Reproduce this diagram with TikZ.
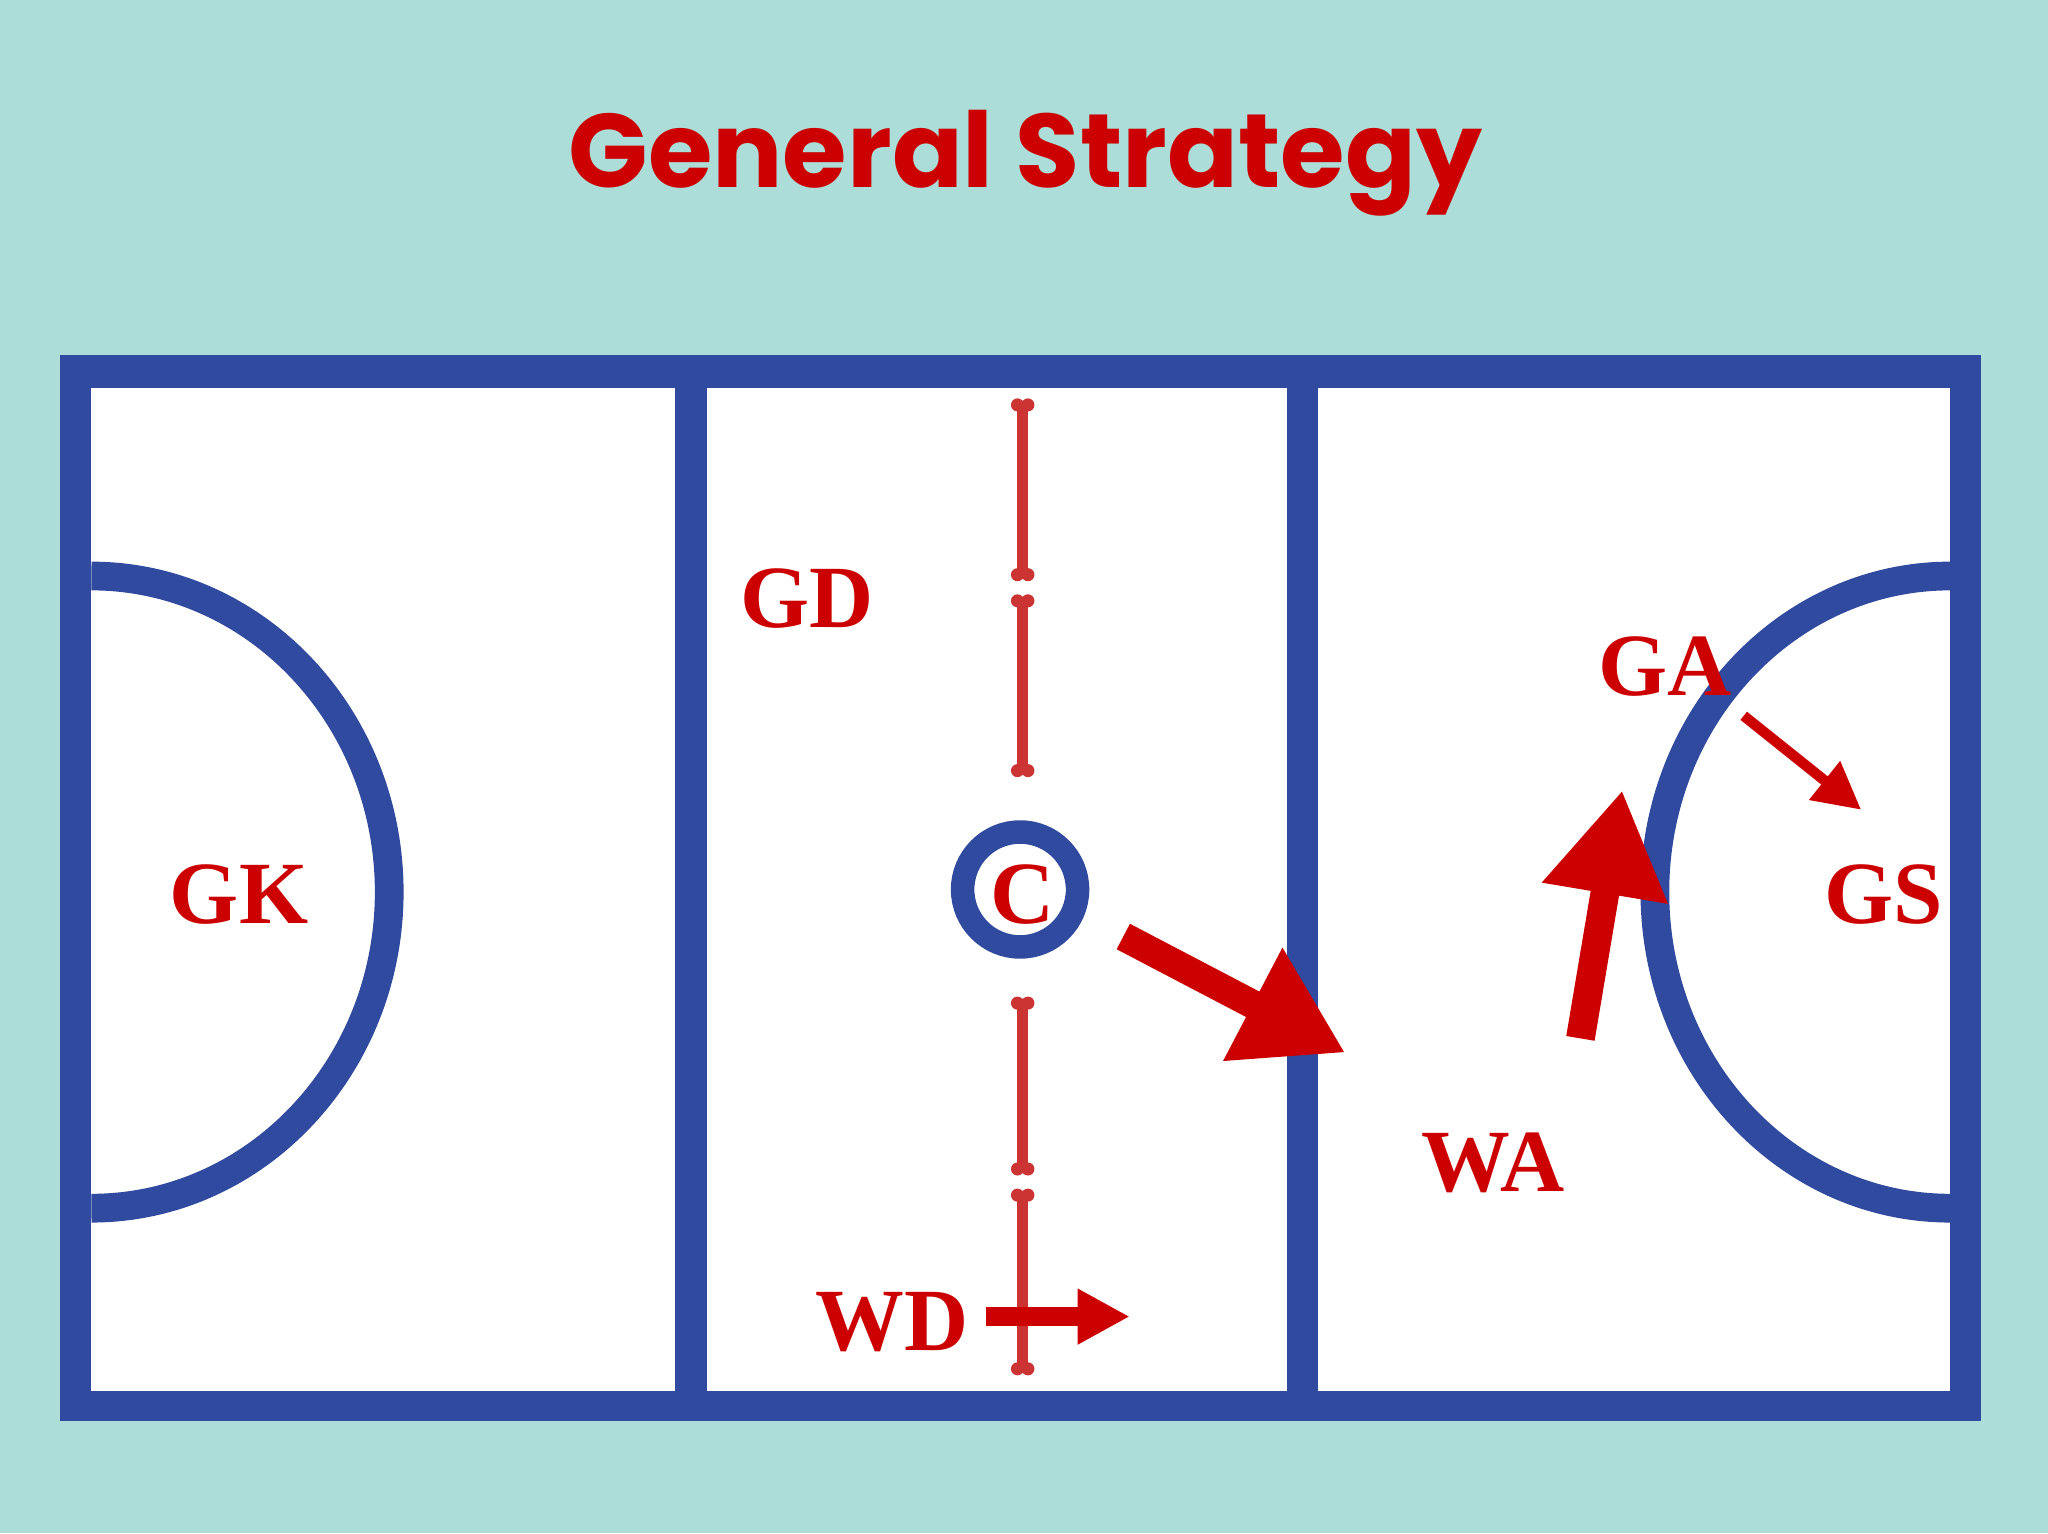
\documentclass[tikz,border=0pt]{standalone}
\usepackage{fontspec}
\setmainfont{Liberation Serif}
\newfontfamily\titlefont{Poppins}
\usetikzlibrary{arrows.meta}
\definecolor{bg}{HTML}{ACDDD8}
\definecolor{cblue}{HTML}{2F4A9E}
\definecolor{tred}{HTML}{CC0000}
\definecolor{lred}{HTML}{CC3333}
\tikzset{
  lbl/.style={text=tred,font=\fontsize{34}{34}\selectfont\bfseries,inner sep=0pt},
  bigarrow/.style={tred,line width=11pt,-{Triangle[length=40pt,width=46pt]}},
  smallarrow/.style={tred,line width=4pt,-{Triangle[length=18pt,width=18pt]}},
  midarrow/.style={tred,line width=7.5pt,-{Triangle[length=20pt,width=20pt]}},
  bone/.style={lred,line width=4pt},
}
\begin{document}
\begin{tikzpicture}[x=0.5pt,y=-0.5pt]
\fill[bg] (0,0) rectangle (1568,1174);
\useasboundingbox (0,0) rectangle (1568,1174);
\node[text=tred,font=\titlefont\fontsize{40}{40}\selectfont\bfseries] (title) at (785,125) {General Strategy};
% court
\fill[cblue] (46,272) rectangle (1517,1088);
\fill[white] (70,297) rectangle (517,1065);
\fill[white] (541,297) rectangle (985,1065);
\fill[white] (1009,297) rectangle (1493,1065);
% semicircles
\draw[cblue,line width=11pt] (70,441) arc[start angle=-90,end angle=90,x radius=228,y radius=242];
\draw[cblue,line width=11pt] (1493,441) arc[start angle=270,end angle=90,x radius=226,y radius=242];
% centre circle
\draw[cblue,line width=9pt] (781,681) circle[radius=44];
% bones
\foreach \a/\b in {310/440,460/590,768/895,915/1048}{
  \draw[bone] (783,\a) -- (783,\b);
  \fill[lred] (779,\a) circle[radius=5] (787,\a) circle[radius=5];
  \fill[lred] (779,\b) circle[radius=5] (787,\b) circle[radius=5];
}
% labels
\node[lbl] (gd) at (618,458) {GD};
\node[lbl] (gk) at (183,685) {GK};
\node[lbl] (c) at (783,685) {C};
\node[lbl] (ga) at (1275,510) {GA};
\node[lbl] (gs) at (1442,685) {GS};
\node[lbl] (wa) at (1143,890) {WA};
\node[lbl] (wd) at (683,1012) {WD};
% arrows
\coordinate (a1s) at (860,717); \coordinate (a1e) at (1030,806);
\coordinate (a2s) at (1210,795); \coordinate (a2e) at (1242,605);
\coordinate (a3s) at (1335,548); \coordinate (a3e) at (1425,620);
\coordinate (a4s) at (755,1008); \coordinate (a4e) at (865,1008);
\draw[bigarrow] (a1s) -- (a1e);
\draw[bigarrow] (a2s) -- (a2e);
\draw[smallarrow] (a3s) -- (a3e);
\draw[midarrow] (a4s) -- (a4e);
\end{tikzpicture}
\end{document}
